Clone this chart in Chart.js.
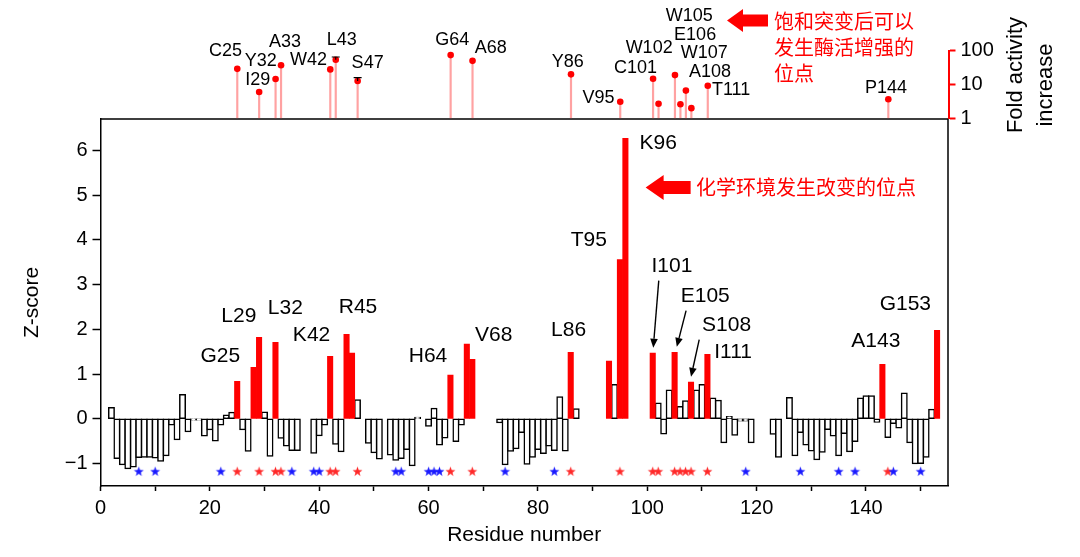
<!DOCTYPE html>
<html><head><meta charset="utf-8">
<script src="https://cdn.jsdelivr.net/npm/chart.js@4.4.1/dist/chart.umd.min.js"></script>
<style>
html,body{margin:0;padding:0;background:#fff;}
#wrap{position:relative;width:1080px;height:557px;overflow:hidden;background:#fff}
canvas{position:absolute;left:0;top:0;}
</style></head><body>
<div id="wrap"><canvas id="main" width="1080" height="557"></canvas><canvas id="top" width="1080" height="160"></canvas></div>
<script>
// ---------------- DATA ----------------
// Z-score per residue; index 0 = residue 1 (null = no data)
const zScoreByResidue = [
  null, 0.25,-0.88,-1.02,-1.11,-1.07,-0.86,-0.85,-0.85,-0.87,   // 1-10
  -0.94,-0.82,-0.13,-0.46, 0.54,-0.28,-0.02,-0.02,-0.38,-0.24,  // 11-20
  -0.49,-0.13, 0.08, 0.14, 0.84,-0.24,-0.72, 1.15, 1.82, 0.15,  // 21-30
  -0.83, 1.71,-0.43,-0.60,-0.70,-0.70, null, null,-0.76,-0.37,  // 31-40
  -0.13, 1.40,-0.56,-0.73, 1.89, 1.47, 0.42, null,-0.54,-0.75,  // 41-50
  -0.89, null,-0.80,-0.92,-0.88,-0.68,-1.04, 0.03, null,-0.16,  // 51-60
   0.23,-0.58,-0.42, 0.98,-0.50,-0.13, 1.67, 1.33, null, null,  // 61-70
   null, null,-0.08,-1.02,-0.72,-0.66,-0.30,-1.01,-0.85,-0.68,  // 71-80
  -0.77,-0.60,-0.70, 0.49,-0.71, 1.49, 0.22, null, null, null,  // 81-90
   null, null, 1.29, 0.76, 3.56, 6.27, null, null, null, null,  // 91-100
   1.47, 0.35,-0.33, 0.64, 1.49, 0.27, 0.40, 0.82, 0.64, 0.76,  // 101-110
   1.44, 0.46, 0.41,-0.53, 0.05,-0.36,-0.04,-0.04,-0.53, null,  // 111-120
   null, null,-0.34,-0.85, null, 0.47,-0.82,-0.30,-0.58,-0.71,  // 121-130
  -0.91,-0.74,-0.23,-0.38,-0.82,-0.32,-0.73,-0.50, 0.46, 0.51,  // 131-140
   0.51,-0.07, 1.22,-0.41,-0.10,-0.20, 0.57,-0.53,-1.00,-0.99,  // 141-150
  -0.85, 0.21, 1.98                                             // 151-153
];
// residues whose chemical environment changed (red bars)
const changedResidues = [25,28,29,32,42,45,46,64,67,68,86,93,95,96,101,105,108,111,143,153];
// blue stars (row under the bars)
const blueStarResidues = [7,10,22,35,39,40,54,55,60,61,62,74,83,118,128,135,138,145,150];
// top panel: saturation-mutagenesis sites with improved activity
const foldResidues = [25,29,32,33,42,43,47,64,68,86,95,101,102,105,106,107,108,111,144];
const foldIncrease = [29,6,14.5,37,28,54,12.7,74,50,20,3.1,14.8,2.7,19,2.6,6.6,2.0,9.2,3.65];
const foldLabels   = ['C25','I29','Y32','A33','W42','L43','S47','G64','A68','Y86','V95','C101','W102','W105','E106','W107','A108','T111','P144'];
const foldErrResidues = [43,47];
const foldErrUpper    = [65,15.9];
const foldTicks = [1,10,100];
// main panel site labels
const siteLabels = ['G25','L29','L32','K42','R45','H64','V68','L86','T95','K96','I101','E105','S108','I111','A143','G153'];

// ---------------- LAYOUT (positions / styles) ----------------
const FONT = '"Liberation Sans", Arial, Helvetica, sans-serif';
const CJK = '"Noto Sans CJK SC", "Noto Sans", sans-serif';
const STAR_ROW = -1.17;
const siteLabelAt = [[21.9,1.39],[25.3,2.30],[33.8,2.48],[38.6,1.88],[47.1,2.50],[59.9,1.41],[71.9,1.86],[85.6,1.99],
  [89.3,4.00],[102.0,6.17],[104.5,3.42],[110.6,2.75],[114.5,2.10],[115.7,1.50],[141.8,1.74],[147.2,2.57]];
const pointerArrows = [
  {from:[102.1,3.09], to:[101.1,1.59]},
  {from:[107.1,2.42], to:[105.4,1.61]},
  {from:[109.5,1.77], to:[108.0,0.94]}
];
const foldLabelOffset = [[-11.7,-18.3],[-1.3,-12],[-14.7,-18],[4,-23.6],[-21.8,-9.3],[6,-19.7],[10,-18],[1.7,-15],[18.3,-13],
  [-3.3,-12.3],[-21.8,-3.7],[-17.6,-11],[-9.4,-56],[14.3,-59.3],[14.7,-69.7],[18.3,-37.4],[18.7,-36.3],[23.3,4.3],[-2.3,-11]];

Chart.defaults.font.family = FONT;
Chart.defaults.color = '#000';

function starImg(color){
  const c=document.createElement('canvas'); c.width=11; c.height=11;
  const g=c.getContext('2d'); g.fillStyle=color; g.beginPath();
  for(let i=0;i<10;i++){ const r=i%2===0?5.2:2.1; const a=-Math.PI/2+i*Math.PI/5; g.lineTo(5.5+r*Math.cos(a),6+r*Math.sin(a)); }
  g.closePath(); g.fill(); return c;
}
function blockArrow(ctx, tipX, cy, len, headLen, headHalf, shaftHalf, color){
  ctx.fillStyle=color; ctx.beginPath();
  ctx.moveTo(tipX,cy); ctx.lineTo(tipX+headLen,cy-headHalf); ctx.lineTo(tipX+headLen,cy-shaftHalf);
  ctx.lineTo(tipX+len,cy-shaftHalf); ctx.lineTo(tipX+len,cy+shaftHalf); ctx.lineTo(tipX+headLen,cy+shaftHalf);
  ctx.lineTo(tipX+headLen,cy+headHalf); ctx.closePath(); ctx.fill();
}
function lineArrow(ctx,x1,y1,x2,y2){
  const ang=Math.atan2(y2-y1,x2-x1), hl=9, hw=3.8;
  const bx=x2-hl*Math.cos(ang), by=y2-hl*Math.sin(ang);
  ctx.strokeStyle='#000'; ctx.lineWidth=1.4; ctx.beginPath(); ctx.moveTo(x1,y1); ctx.lineTo(bx,by); ctx.stroke();
  ctx.fillStyle='#000'; ctx.beginPath(); ctx.moveTo(x2,y2);
  ctx.lineTo(bx+hw*Math.sin(ang), by-hw*Math.cos(ang)); ctx.lineTo(bx-hw*Math.sin(ang), by+hw*Math.cos(ang)); ctx.closePath(); ctx.fill();
}

// ---------------- MAIN CHART ----------------
const whiteBars=[], redBars=[];
zScoreByResidue.forEach((z,i)=>{ if(z===null) return; const r=i+1;
  (changedResidues.includes(r)?redBars:whiteBars).push({x:r,y:z}); });

const mainDecor = {
  id:'mainDecor',
  afterDraw(chart){
    const {ctx, chartArea:a, scales:{x,y}} = chart;
    ctx.save();
    ctx.strokeStyle='#000'; ctx.lineWidth=1.5;
    ctx.beginPath(); ctx.moveTo(a.left,a.top); ctx.lineTo(a.right,a.top); ctx.lineTo(a.right,a.bottom); ctx.stroke();
    ctx.fillStyle='#000'; ctx.font='21px '+FONT; ctx.textAlign='center'; ctx.textBaseline='middle';
    siteLabels.forEach((t,i)=>{ const p=siteLabelAt[i]; ctx.fillText(t,x.getPixelForValue(p[0]),y.getPixelForValue(p[1])); });
    pointerArrows.forEach(p=>lineArrow(ctx,x.getPixelForValue(p.from[0]),y.getPixelForValue(p.from[1]),x.getPixelForValue(p.to[0]),y.getPixelForValue(p.to[1])));
    const tipX=x.getPixelForValue(99.7), cy=y.getPixelForValue(5.17);
    blockArrow(ctx,tipX,cy,45,18,12.5,6.5,'#ff0000');
    ctx.fillStyle='#ff0000'; ctx.font='20px '+CJK; ctx.textAlign='left';
    ctx.fillText('化学环境发生改变的位点', x.getPixelForValue(108.9), cy);
    ctx.restore();
  }
};

new Chart(document.getElementById('main'), {
  type:'bar',
  data:{datasets:[
    {label:'Z-score', data:whiteBars, backgroundColor:'#ffffff', borderColor:'#000', borderWidth:1.5, inflateAmount:0.75, borderSkipped:false,
     grouped:false, barPercentage:1, categoryPercentage:1, order:3},
    {label:'Changed', data:redBars, backgroundColor:'#ff0000', borderWidth:0, inflateAmount:0.3, grouped:false, barPercentage:1, categoryPercentage:1, order:2},
    {type:'scatter', label:'blue', data:blueStarResidues.map(r=>({x:r,y:STAR_ROW})), pointStyle:starImg('#1a1aff'), pointRadius:5, order:1},
    {type:'scatter', label:'red', data:foldResidues.map(r=>({x:r,y:STAR_ROW})), pointStyle:starImg('#ff2a2a'), pointRadius:5, order:1}
  ]},
  options:{
    responsive:false, animation:false, events:[],
    layout:{padding:{left:0,right:132,top:119,bottom:0}},
    plugins:{legend:{display:false}, tooltip:{enabled:false}},
    scales:{
      x:{type:'linear', min:0, max:155, offset:false,
        ticks:{stepSize:10, includeBounds:false, autoSkip:false, maxRotation:0, font:{size:20}, padding:5,
          callback:v=> v%20===0 ? String(v) : ''},
        grid:{offset:false, drawOnChartArea:false, tickLength:5, tickColor:'#000', tickWidth:1.5},
        border:{color:'#000', width:1.5},
        title:{display:true, text:'Residue number', font:{size:21}, padding:{top:0,bottom:9}},
        afterFit(s){ s.height = 71; }
      },
      y:{min:-1.5, max:6.7,
        ticks:{stepSize:1, includeBounds:false, font:{size:20}, padding:5,
          callback:v=> v<0 ? '\u2212'+Math.abs(v) : String(v)},
        grid:{drawOnChartArea:false, tickLength:8, tickColor:'#000', tickWidth:1.5},
        border:{color:'#000', width:1.5},
        title:{display:true, text:'Z-score', font:{size:21}, padding:{top:20,bottom:0}},
        afterFit(s){ s.width = 100.5; }
      }
    }
  },
  plugins:[mainDecor]
});

// ---------------- TOP CHART ----------------
const topDecor = {
  id:'topDecor',
  afterDraw(chart){
    const {ctx, scales:{x,y}} = chart;
    ctx.save();
    // error caps
    ctx.strokeStyle='#000'; ctx.lineWidth=1.2;
    foldErrResidues.forEach((r,i)=>{
      const px=x.getPixelForValue(r), pv=y.getPixelForValue(foldIncrease[foldResidues.indexOf(r)]), pu=y.getPixelForValue(foldErrUpper[i]);
      ctx.beginPath(); ctx.moveTo(px,pv); ctx.lineTo(px,pu); ctx.moveTo(px-4,pu); ctx.lineTo(px+4,pu); ctx.stroke();
    });
    // labels
    ctx.fillStyle='#000'; ctx.font='18px '+FONT; ctx.textAlign='center'; ctx.textBaseline='middle';
    foldLabels.forEach((t,i)=>{ const px=x.getPixelForValue(foldResidues[i]), py=y.getPixelForValue(foldIncrease[i]);
      ctx.fillText(t, px+foldLabelOffset[i][0], py+foldLabelOffset[i][1]); });
    // note
    blockArrow(ctx,727,20.5,41,16,11.5,6,'#ff0000');
    ctx.fillStyle='#ff0000'; ctx.font='20px '+CJK; ctx.textAlign='left';
    ['饱和突变后可以','发生酶活增强的','位点'].forEach((t,i)=>ctx.fillText(t,774,21+i*26));
    // axis title
    ctx.fillStyle='#000'; ctx.font='22px '+FONT; ctx.textAlign='center';
    ctx.save(); ctx.translate(1016,75); ctx.rotate(-Math.PI/2); ctx.fillText('Fold activity',0,0); ctx.restore();
    ctx.save(); ctx.translate(1046,85); ctx.rotate(-Math.PI/2); ctx.fillText('increase',0,0); ctx.restore();
    ctx.restore();
  }
};

new Chart(document.getElementById('top'), {
  type:'bar',
  data:{datasets:[
    {label:'stem', data:foldResidues.map((r,i)=>({x:r,y:[1,foldIncrease[i]]})), backgroundColor:'rgba(255,70,70,0.5)',
     borderWidth:0, barThickness:1.5, grouped:false, order:2},
    {type:'scatter', label:'Fold activity increase', data:foldResidues.map((r,i)=>({x:r,y:foldIncrease[i]})),
     backgroundColor:'#ff0000', borderWidth:0, pointRadius:3.3, order:1}
  ]},
  options:{
    responsive:false, animation:false, events:[],
    layout:{padding:{left:100.5,right:0,top:50.7,bottom:41.7}},
    plugins:{legend:{display:false}, tooltip:{enabled:false}},
    scales:{
      x:{type:'linear', min:0, max:155, offset:false, display:false, grid:{offset:false}},
      y:{type:'logarithmic', position:'right', min:1, max:100,
        afterBuildTicks(s){ s.ticks = foldTicks.map(v=>({value:v})); },
        ticks:{font:{size:20}, padding:5, callback:v=>String(v)},
        grid:{drawOnChartArea:false, tickLength:7, tickColor:'#ff0000', tickWidth:2},
        border:{color:'#ff0000', width:2},
        afterFit(s){ s.width = 131.5; }
      }
    }
  },
  plugins:[topDecor]
});
</script>
</body></html>
